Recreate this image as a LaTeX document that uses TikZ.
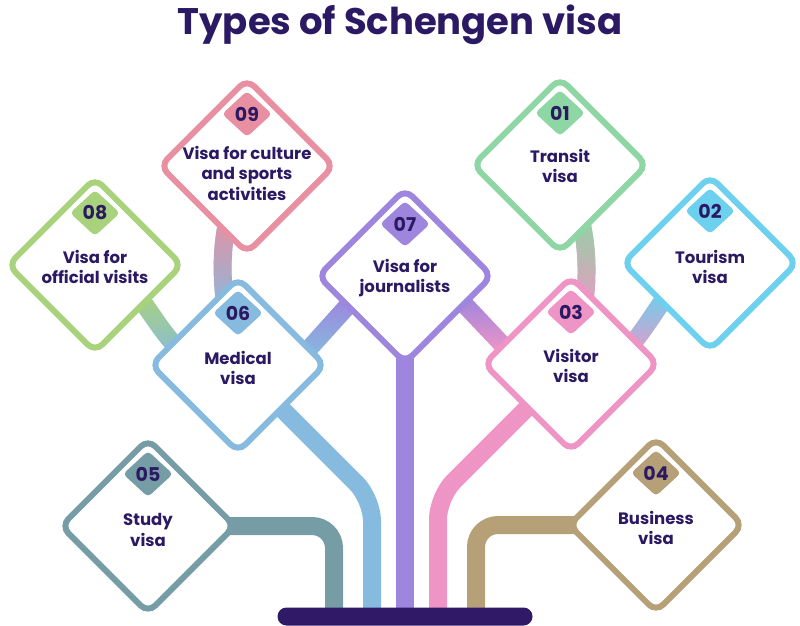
\documentclass[tikz,border=0pt]{standalone}
\usepackage{fontspec}
\setmainfont{Poppins}
\usetikzlibrary{shapes.geometric, calc, backgrounds, fadings}

\definecolor{ink}{HTML}{2B1A63}
\definecolor{barcol}{HTML}{301966}
\definecolor{pinkA}{HTML}{E890A2}
\definecolor{greenA}{HTML}{A8D27C}
\definecolor{purpleA}{HTML}{9E86DE}
\definecolor{mintA}{HTML}{8ED6A4}
\definecolor{cyanA}{HTML}{6DD0EE}
\definecolor{blueA}{HTML}{86BBDF}
\definecolor{pinkB}{HTML}{EF95C6}
\definecolor{tealA}{HTML}{769DA6}
\definecolor{tanA}{HTML}{B5A077}

%opaque at the top, transparent at the bottom
\tikzfading[name=stemfade, top color=transparent!0, bottom color=transparent!100]
\begin{tikzfadingfrompicture}[name=bandfade]
	\fill[transparent!0] (-50bp,12bp) rectangle (50bp,50bp);
	\shade[top color=transparent!0, bottom color=transparent!100] (-50bp,-12bp) rectangle (50bp,12bp);
	\fill[transparent!100] (-50bp,-50bp) rectangle (50bp,-12bp);
\end{tikzfadingfrompicture}

\tikzset{
	card/.style={shape=diamond, aspect=1, line width=6pt, fill=white, rounded corners=10pt, minimum width=176pt, minimum height=176pt, inner sep=0pt},
	badge/.style={shape=diamond, rounded corners=4pt, minimum width=50pt, minimum height=46pt, inner sep=0pt, text=ink, font=\bfseries\fontsize{19}{22}\selectfont},
	lbl/.style={text=ink, align=center, font=\bfseries\fontsize{16.5}{20.5}\selectfont},
	heading/.style={anchor=base, text=ink, font=\bfseries\fontsize{37}{44}\selectfont},
	stem/.style={line width=18pt},
	softstem/.style={line width=18pt, path fading=#1},
}

\begin{document}
\begin{tikzpicture}[x=1pt, y=-1pt]
	\useasboundingbox (0,0) rectangle (800,626);
	
	\node[heading] (title) at (400,35) {Types of Schengen visa};
	
	%the cards
	\node[card, draw=pinkA] (d09) at (247,166) {};
	\node[card, draw=greenA] (d08) at (95,265) {};
	\node[card, draw=purpleA] (d07) at (405,276) {};
	\node[card, draw=mintA] (d01) at (560,165) {};
	\node[card, draw=cyanA] (d02) at (710,263) {};
	\node[card, draw=blueA] (d06) at (238,365) {};
	\node[card, draw=pinkB] (d03) at (571,364) {};
	\node[card, draw=tealA] (d05) at (148,526) {};
	\node[card, draw=tanA] (d04) at (656,525) {};
	
	%number badges
	\node[badge, fill=pinkA] (b09) at ([yshift=52pt]d09.center) {09};
	\node[badge, fill=greenA] (b08) at ([yshift=52pt]d08.center) {08};
	\node[badge, fill=purpleA] (b07) at ([yshift=52pt]d07.center) {07};
	\node[badge, fill=mintA] (b01) at ([yshift=52pt]d01.center) {01};
	\node[badge, fill=cyanA] (b02) at ([yshift=52pt]d02.center) {02};
	\node[badge, fill=blueA] (b06) at ([yshift=52pt]d06.center) {06};
	\node[badge, fill=pinkB] (b03) at ([yshift=52pt]d03.center) {03};
	\node[badge, fill=tealA] (b05) at ([yshift=52pt]d05.center) {05};
	\node[badge, fill=tanA] (b04) at ([yshift=52pt]d04.center) {04};
	
	\node[lbl] (t09) at ([yshift=-7pt]d09.center) {Visa for culture\\and sports\\activities};
	\node[lbl] (t08) at ([yshift=-2pt]d08.center) {Visa for\\official visits};
	\node[lbl] (t07) at ([yshift=-2pt]d07.center) {Visa for\\journalists};
	\node[lbl] (t01) at ([yshift=-1pt]d01.center) {Transit\\visa};
	\node[lbl] (t02) at ([yshift=-4pt]d02.center) {Tourism\\visa};
	\node[lbl] (t06) at ([yshift=-3pt]d06.center) {Medical\\visa};
	\node[lbl] (t03) at ([yshift=-2pt]d03.center) {Visitor\\visa};
	\node[lbl] (t05) at ([yshift=-4pt]d05.center) {Study\\visa};
	\node[lbl] (t04) at ([yshift=-3pt]d04.center) {Business\\visa};
	
	\node[fill=barcol, rounded corners=9pt, minimum width=255pt, minimum height=18pt, inner sep=0pt] (base) at (405,616.5) {};
	
	\begin{scope}[on background layer]
		%trunks down to the base
		\draw[stem, tealA, rounded corners=22pt] (d05.center) -| ([xshift=-71pt]base.center);
		\draw[stem, blueA, rounded corners=22pt] (d06.center) -- ++(134,134) -- ([xshift=-33pt]base.center);
		\draw[stem, purpleA] (d07.center) -- (base.center);
		\draw[stem, pinkB, rounded corners=22pt] (d03.center) -- ++(-133,133) -- ([xshift=33pt]base.center);
		\draw[stem, tanA, rounded corners=22pt] (d04.center) -| ([xshift=71pt]base.center);
		
		%branches between cards
		\draw[stem, blueA] (d09.center) .. controls (212,235) and (220,300) .. (d06.center);
		\draw[softstem=bandfade, pinkA] (d09.center) .. controls (212,235) and (220,300) .. (d06.center);
		\draw[stem, blueA] (d08.center) .. controls (150,270) and (165,390) .. (d06.center);
		\draw[softstem=bandfade, greenA] (d08.center) .. controls (150,270) and (165,390) .. (d06.center);
		\draw[stem, pinkB] (d01.center) .. controls (597,235) and (590,300) .. (d03.center);
		\draw[softstem=bandfade, mintA] (d01.center) .. controls (597,235) and (590,300) .. (d03.center);
		\draw[stem, pinkB] (d02.center) .. controls (655,270) and (640,390) .. (d03.center);
		\draw[softstem=bandfade, cyanA] (d02.center) .. controls (655,270) and (640,390) .. (d03.center);
		
		\draw[stem, blueA, shorten <=-10pt, shorten >=-10pt] ($(d07.west)!0.35!(d07.south)$) -- ($(d06.north)!0.8!(d06.east)$);
		\draw[softstem=stemfade, purpleA, shorten <=-10pt, shorten >=-10pt] ($(d07.west)!0.35!(d07.south)$) -- ($(d06.north)!0.8!(d06.east)$);
		\draw[stem, pinkB, shorten <=-10pt, shorten >=-10pt] ($(d07.east)!0.33!(d07.south)$) -- ($(d03.west)!0.23!(d03.north)$);
		\draw[softstem=stemfade, purpleA, shorten <=-10pt, shorten >=-10pt] ($(d07.east)!0.33!(d07.south)$) -- ($(d03.west)!0.23!(d03.north)$);
	\end{scope}
\end{tikzpicture}
\end{document}
